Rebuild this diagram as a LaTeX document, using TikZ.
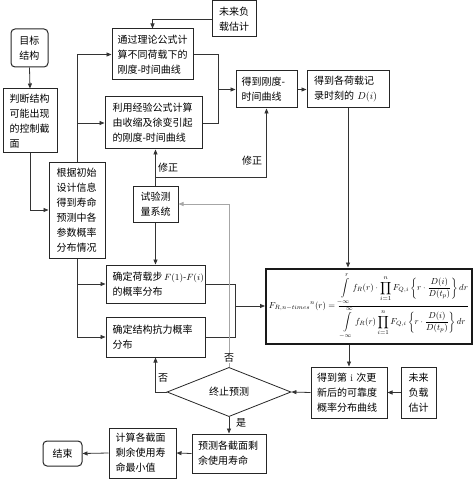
\documentclass[tikz,border=0pt]{standalone}
\usepackage{amsmath}
\usepackage{graphicx}
\usepackage{fontspec}
\newfontfamily\cjk{Noto Sans CJK SC}
\usetikzlibrary{arrows.meta,shapes.geometric}
\begin{document}
\begin{tikzpicture}[x=1pt,y=-1pt,
  box/.style={draw=black!85, line width=1pt, inner sep=0pt, font=\cjk\fontsize{10}{15}\selectfont},
  conn/.style={draw=black!80, line width=0.8pt},
  arr/.style={conn, -{Triangle[length=5pt,width=4pt]}},
  garr/.style={draw=black!35, line width=0.8pt, -{Triangle[length=5pt,width=4pt]}},
  lbl/.style={font=\cjk\fontsize{10}{12}\selectfont, inner sep=1pt}]
\useasboundingbox (0,0) rectangle (474,481);

% nodes
\node[box, rounded corners=4pt, minimum width=37pt, minimum height=38pt, align=center] (goal) at (29.5,48) {目标\\结构};
\node[box, minimum width=54pt, minimum height=64pt, text width=41pt, align=left] (judge) at (30,121) {判断结构\\可能出现\\的控制截\\面};
\node[box, minimum width=81pt, minimum height=51pt, text width=70pt, align=left] (theory) at (152.5,54.5) {通过理论公式计\\算不同荷载下的\\刚度-时间曲线};
\node[box, minimum width=97pt, minimum height=52pt, text width=82pt, align=left] (empir) at (153.5,123) {利用经验公式计算\\由收缩及徐变引起\\的刚度-时间曲线};
\node[box, minimum width=44pt, minimum height=36pt, align=center] (future1) at (234,19) {未来负\\载估计};
\node[box, minimum width=61pt, minimum height=37pt, text width=50pt, align=left] (stiff) at (266.5,89.5) {得到刚度-\\时间曲线};
\node[box, minimum width=82pt, minimum height=37pt, text width=68pt, align=left] (dload) at (348,89.5) {得到各荷载记\\录时刻的 $D(i)$};
\node[box, minimum width=56pt, minimum height=96pt, text width=41pt, align=left] (basis) at (77,210) {根据初始\\设计信息\\得到寿命\\预测中各\\参数概率\\分布情况};
\node[box, minimum width=45pt, minimum height=36pt, align=center] (test) at (155.5,204) {试验测\\量系统};
\node[box, minimum width=99pt, minimum height=38pt, text width=86pt, align=left] (loadstep) at (155.5,284) {确定荷载步\,\mbox{\fontsize{9}{15}\selectfont$F(1)$-$F(i)$}\\的概率分布};
\node[box, minimum width=99pt, minimum height=40pt, text width=86pt, align=left] (resist) at (155.5,337) {确定结构抗力概率\\分布};
\node[draw=black!90, line width=2pt, minimum width=206pt, minimum height=75pt, inner sep=0pt] (formula) at (369,306)
 {\resizebox{200pt}{!}{$\displaystyle F_{R,n-times}{}^{n}(r)=\frac{\displaystyle\int\limits_{-\infty}^{r} f_R(r)\cdot\prod\limits_{i=1}^{n}F_{Q,i}\left\{r\cdot\frac{D(i)}{D(t_p)}\right\}dr}{\displaystyle\int\limits_{-\infty}^{\infty} f_R(r)\prod\limits_{i=1}^{n}F_{Q,i}\left\{r\cdot\frac{D(i)}{D(t_p)}\right\}dr}$}};
\node[box, minimum width=76pt, minimum height=51pt, text width=64pt, align=left] (update) at (349,392.5) {得到第 $\mathrm{i}$ 次更\\新后的可靠度\\概率分布曲线};
\node[box, minimum width=35pt, minimum height=51pt, align=center] (future2) at (418.5,392.5) {未来\\负载\\估计};
\node[draw=black!85, line width=0.8pt, shape=diamond, minimum width=124pt, minimum height=36pt, inner sep=0pt, font=\cjk\fontsize{10}{12}\selectfont] (diamond) at (229,392) {终止预测};
\node[box, minimum width=74pt, minimum height=39pt, text width=62pt, align=left] (predict) at (229,453.5) {预测各截面剩\\余使用寿命};
\node[box, minimum width=67pt, minimum height=50pt, text width=54pt, align=left] (compute) at (142.5,453) {计算各截面\\剩余使用寿\\命最小值};
\node[box, rounded corners=4pt, minimum width=39pt, minimum height=25pt, align=center] (end) at (62.5,453.5) {结束};

% junction coordinates
\coordinate (j1) at (218,89.5);
\coordinate (j2) at (235,306);
\coordinate (c1) at (155.5,177);

% connectors
\draw[arr] (goal.south) -- (judge.north);
\draw[arr] (judge.south) |- (basis.west);
\draw[arr] (basis.north) |- (theory.west);
\draw[arr] (basis.north) |- (empir.west);
\draw[arr] (basis.south) |- (loadstep.west);
\draw[arr] (basis.south) |- (resist.west);
\draw[conn] (theory.east) -| (j1);
\draw[conn] (empir.east) -| (j1);
\draw[arr] (j1) -- (stiff.west);
\draw[arr] (stiff.east) -- (dload.west);
\draw[arr] (future1.west) -| (theory.north);
\draw[arr] (dload.south) -- (dload.south |- formula.north);
\draw[arr] (test.north) -- (test.north |- empir.south);
\draw[arr] (c1) -| (stiff.south);
\draw[arr] (test.south) -- (loadstep.north);
\draw[conn] (loadstep.east) -| (j2);
\draw[conn] (resist.east) -| (j2);
\draw[arr] (j2) -- (formula.west);
\draw[arr] (formula.south -| update.north) -- (update.north);
\draw[arr] (future2.west) -- (update.east);
\draw[arr] (update.west) -- (diamond.east);
\draw[arr] (diamond.west) -| (resist.south);
\draw[arr] (diamond.south) -- (predict.north);
\draw[garr] (diamond.north) |- (test.east);
\draw[arr] (predict.west) -- (compute.east);
\draw[arr] (compute.west) -- (end.east);

% labels
\node[lbl] (l1) at (168,168) {修正};
\node[lbl] (l2) at (252,161) {修正};
\node[lbl, fill=white] (l3) at (229,358) {否};
\node[lbl] (l4) at (163,378) {否};
\node[lbl] (l5) at (241,423) {是};
\end{tikzpicture}
\end{document}
